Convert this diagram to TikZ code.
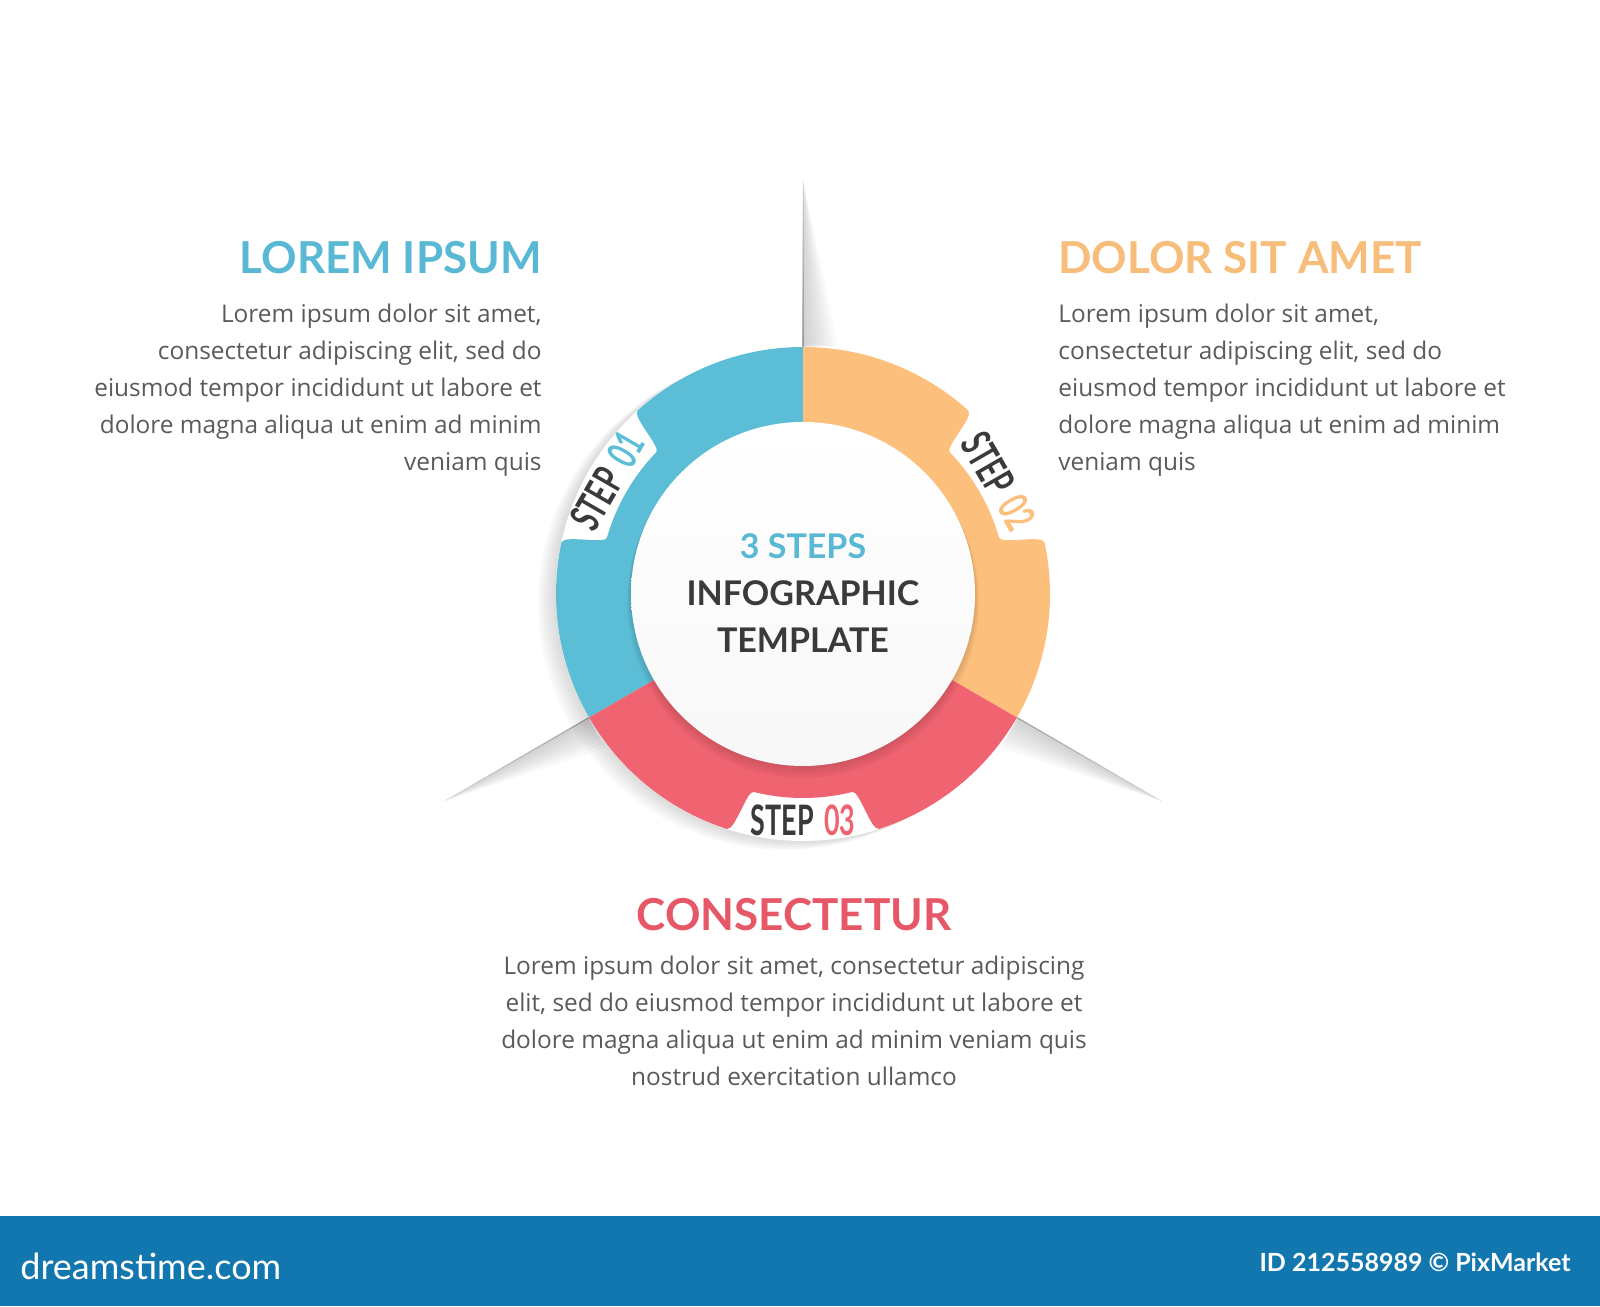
\documentclass[tikz,border=0pt]{standalone}
\usepackage{fontspec}
\setmainfont{Open Sans}
\newfontfamily\headfont{Lato}
\newfontfamily\tagfont[FakeStretch=0.64]{Lato}
\usepackage{xcolor}
\definecolor{ringblue}{RGB}{91,190,214}
\definecolor{ringorange}{RGB}{252,191,124}
\definecolor{ringred}{RGB}{240,99,112}
\definecolor{headblue}{RGB}{89,184,211}
\definecolor{headorange}{RGB}{247,189,122}
\definecolor{headred}{RGB}{230,88,104}
\definecolor{darktext}{RGB}{58,58,58}
\definecolor{bodygray}{RGB}{90,90,90}
\definecolor{barblue}{RGB}{17,119,174}
\tikzstyle{heading} = [font=\headfont\bfseries\fontsize{22}{26}\selectfont, inner sep=0pt]
\tikzstyle{bodytext} = [font=\fontsize{12.2}{18.5}\selectfont, text=bodygray, inner sep=0pt]
\tikzstyle{centertext} = [font=\headfont\bfseries\fontsize{17}{20}\selectfont, inner sep=0pt, anchor=base]
\tikzstyle{steptag} = [font=\tagfont\bfseries\fontsize{21}{21}\selectfont, inner sep=0pt, text=darktext]

\begin{document}
\begin{tikzpicture}[x=0.5pt,y=0.5pt]
    \useasboundingbox (0,0) rectangle (1600,1306);

    % bottom bar
    \fill[barblue] (0,0) rectangle (1600,90);
    \node[anchor=base west, font=\headfont\fontsize{18}{18}\selectfont, text=white, inner sep=0pt] (site) at (20,26) {dreamstime.com};
    \node[anchor=base east, font=\headfont\bfseries\fontsize{12.5}{14}\selectfont, text=white, inner sep=0pt] (imgid) at (1571,35) {ID 212558989 © PixMarket};

    \begin{scope}[shift={(803,712)}]
        % fold lines and their shadows
        \foreach \a/\s in {90/-1, 210/1, 330/-1} {
            \foreach \w in {1,...,8}
                \fill[black, opacity=0.025] (\a:247) -- (\a:414) -- ({\a+\s*\w}:250) -- cycle;
            \foreach \i [evaluate=\i as \op using 0.3*(1-\i/16)] in {0,...,15}
                \draw[black, opacity=\op, line width=0.6pt] (\a:{247+\i*10.4}) -- (\a:{247+(\i+1)*10.4});
        }
        % ring shadow
        \foreach \k in {1,...,6}
            \fill[black, opacity=0.025] (-3*\k,-1.5*\k) circle[radius=247];
        \fill[white] (0,0) circle[radius=247];
        % ring segments with notches
        \foreach \a/\b/\m/\c in {90/210/150/ringblue, -30/90/30/ringorange, 210/330/270/ringred}
            \fill[\c] (\a:150) -- (\a:247) arc[start angle=\a, end angle=\m-18, radius=247]
                .. controls (\m-16:247) and (\m-16:204) .. (\m-14:204)
                arc[start angle=\m-14, end angle=\m+14, radius=204]
                .. controls (\m+16:204) and (\m+16:247) .. (\m+18:247)
                arc[start angle=\m+18, end angle=\b, radius=247]
                -- (\b:150) arc[start angle=\b, end angle=\a, radius=150] -- cycle;
        % inner disc
        \foreach \k in {1,...,4}
            \fill[black, opacity=0.03] (0,-2*\k) circle[radius={172+\k}];
        \shade[top color=white, bottom color=black!3] (0,0) circle[radius=172];

        \node[steptag, rotate=60] (tag1) at (150:226) {STEP\hspace{0.25em}{\color{ringblue}01}};
        \node[steptag, rotate=-60] (tag2) at (30:226) {STEP\hspace{0.25em}{\color{ringorange}02}};
        \node[steptag] (tag3) at (270:226) {STEP\hspace{0.25em}{\color{ringred}03}};
    \end{scope}

    % centre text
    \node[centertext, text=headblue] (steps) at (803,747) {3 STEPS};
    \node[centertext, text=darktext] (info) at (803,700) {INFOGRAPHIC};
    \node[centertext, text=darktext] (templ) at (803,653) {TEMPLATE};

    % text blocks
    \node[heading, text=headblue, anchor=base east] (head1) at (542,1032) {LOREM IPSUM};
    \node[bodytext, align=right, anchor=north east] (body1) at (542,1002) {Lorem ipsum dolor sit amet,\\consectetur adipiscing elit, sed do\\eiusmod tempor incididunt ut labore et\\dolore magna aliqua ut enim ad minim\\veniam quis};

    \node[heading, text=headorange, anchor=base west] (head2) at (1058,1032) {DOLOR SIT AMET};
    \node[bodytext, align=left, anchor=north west] (body2) at (1058,1002) {Lorem ipsum dolor sit amet,\\consectetur adipiscing elit, sed do\\eiusmod tempor incididunt ut labore et\\dolore magna aliqua ut enim ad minim\\veniam quis};

    \node[heading, text=headred, anchor=base] (head3) at (794,375) {CONSECTETUR};
    \node[bodytext, align=center, anchor=north] (body3) at (794,350) {Lorem ipsum dolor sit amet, consectetur adipiscing\\elit, sed do eiusmod tempor incididunt ut labore et\\dolore magna aliqua ut enim ad minim veniam quis\\nostrud exercitation ullamco};
\end{tikzpicture}
\end{document}
